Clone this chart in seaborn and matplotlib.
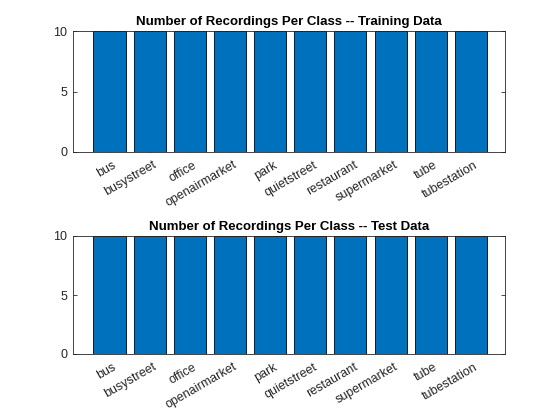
import matplotlib
matplotlib.use("Agg")
import matplotlib.pyplot as plt
import matplotlib.transforms as mtransforms
import seaborn as sns
import pandas as pd

classes = ["bus", "busystreet", "office", "openairmarket", "park",
           "quietstreet", "restaurant", "supermarket", "tube", "tubestation"]
train_counts = [10, 10, 10, 10, 10, 10, 10, 10, 10, 10]
test_counts = [10, 10, 10, 10, 10, 10, 10, 10, 10, 10]
titles = ["Number of Recordings Per Class -- Training Data",
          "Number of Recordings Per Class -- Test Data"]
yticks = [0, 5, 10]

sns.set_theme(style="white")
plt.rcParams['font.family'] = ['Liberation Sans', 'DejaVu Sans']
dark = "#262626"

fig = plt.figure(figsize=(5.6, 4.2), dpi=100)
W, H = 560, 420
rects = [(73, 31, 505, 152), (73, 236, 505, 354)]
offset = mtransforms.ScaledTranslation(3 / 100, 0, fig.dpi_scale_trans)
for (l, t, r, b), counts, title in zip(rects, [train_counts, test_counts], titles):
    ax = fig.add_axes([l / W, 1 - b / H, (r - l) / W, (b - t) / H])
    df = pd.DataFrame({"cls": classes, "n": counts})
    sns.barplot(data=df, x="cls", y="n", ax=ax, color="#0072BD", saturation=1,
                width=0.8, edgecolor="black", linewidth=0.6)
    ax.set_xlim(-0.91, 9.85)
    ax.set_ylim(0, 10)
    ax.set_yticks(yticks)
    ax.set_xlabel("")
    ax.set_ylabel("")
    ax.set_title(title, fontsize=9.5, fontweight="bold", color="black", pad=4)
    ax.tick_params(direction="in", length=3, width=0.6, colors=dark,
                   labelsize=9, top=True, right=True, bottom=True, left=True,
                   labelcolor=dark)
    ax.tick_params(axis="x", pad=5)
    ax.tick_params(axis="y", pad=4)
    for lab in ax.get_xticklabels():
        lab.set_rotation(30)
        lab.set_ha("right")
        lab.set_va("top")
        lab.set_rotation_mode("anchor")
        lab.set_transform(lab.get_transform() + offset)
    for s in ax.spines.values():
        s.set_visible(True)
        s.set_color(dark)
        s.set_linewidth(0.6)

fig.savefig("out.png", dpi=100, facecolor="white")
